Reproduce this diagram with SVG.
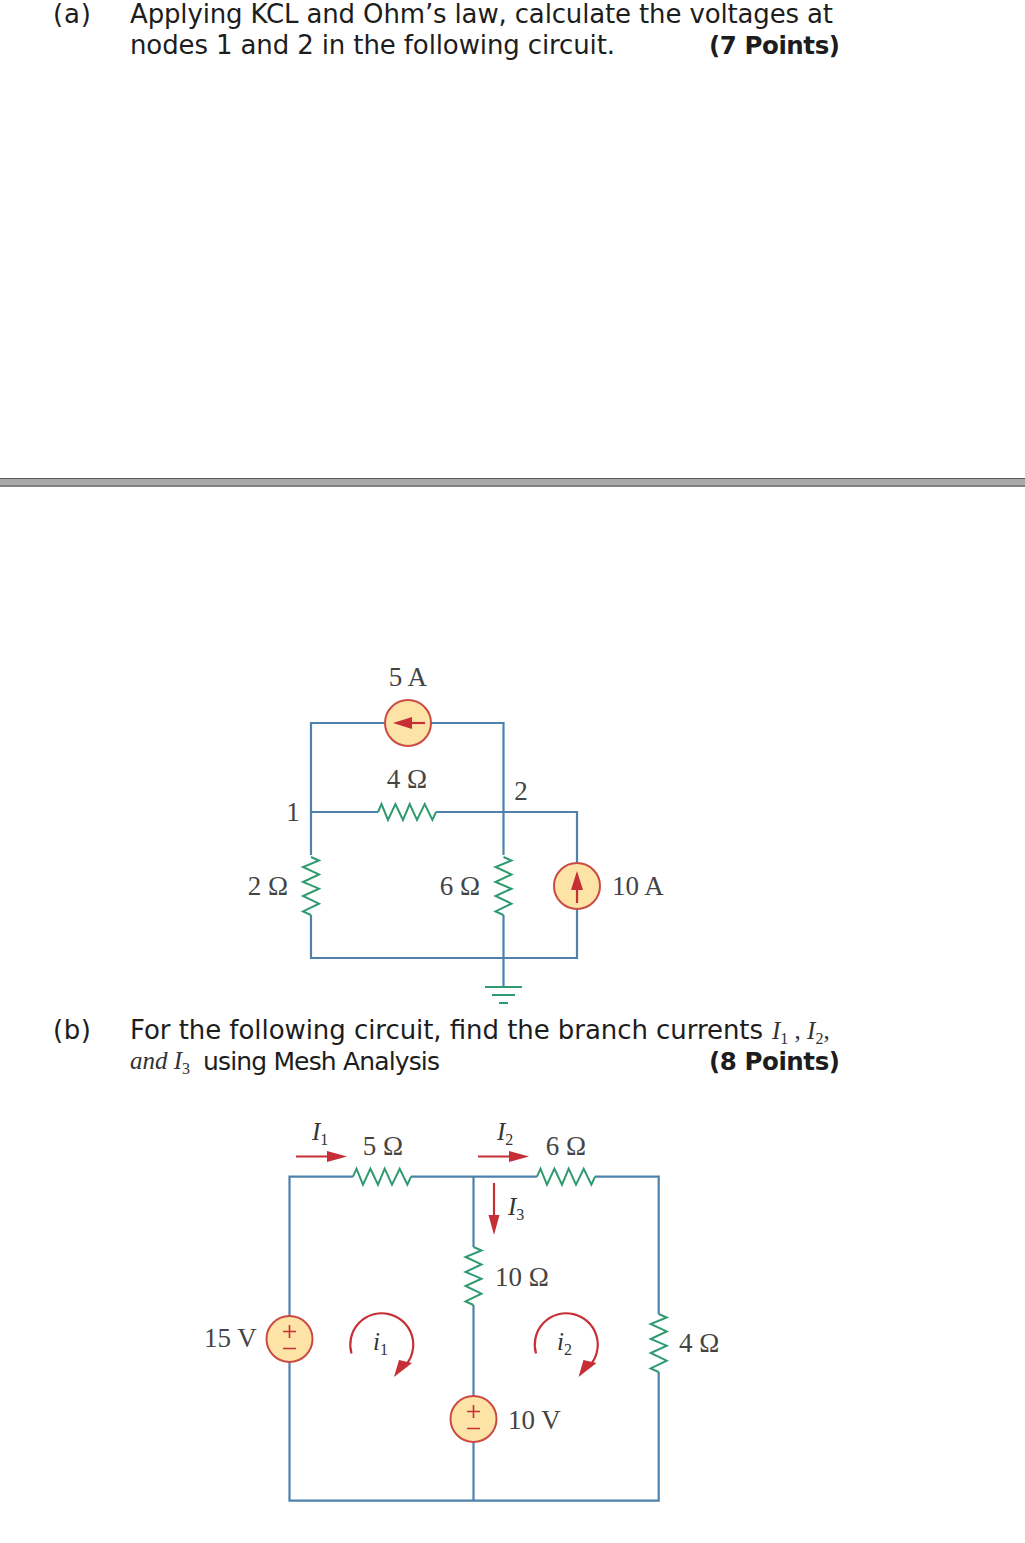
<svg xmlns="http://www.w3.org/2000/svg" width="1025" height="1543" viewBox="0 0 1025 1543">
<style>
.t{font-family:"DejaVu Sans",Verdana,sans-serif;font-size:26px;fill:#1d1d1d}
.b{font-weight:bold;font-size:24.500px}
.n{font-size:25px}
.l{font-family:"Liberation Serif","Times New Roman",serif;font-size:27px;fill:#444}
.m{font-family:"Liberation Serif","Times New Roman",serif;font-style:italic;font-size:25px;fill:#333}
.w{fill:none;stroke:#4f81ad;stroke-width:2.200}
.r{fill:none;stroke:#2f9a70;stroke-width:2}
.s{fill:#fde3a5;stroke:#cb4a43;stroke-width:2}
.a{fill:none;stroke:#c62f35;stroke-width:2.200}
.p{fill:none;stroke:#c62f35;stroke-width:1.600}
.h{fill:#c62f35}
.g{stroke:#2f9a70;stroke-width:2}
</style>
<defs>
<path id="res" class="r" d="M0 0L3.500-8L10 8L17.400-8L25 8L31.700-8L39 8L46.700-8L54.400 8L58 0"/>
<g id="vs"><circle class="s" r="23"/><path class="p" d="M-6.500-7.500H6.500M0-14V-1M-6.500 9.500H6.500"/></g>
<g id="mesh"><path class="a" d="M-30.500 8.500A31.500 31.500 0 1 1 23 21"/><path class="h" d="M12 32L17 15L30 18Z"/></g>
</defs>
<rect width="1025" height="1543" fill="#fff"/>
<g id="header">
<text class="t" x="53" y="23" textLength="38">(a)</text>
<text class="t" x="130" y="23" textLength="703">Applying KCL and Ohm’s law, calculate the voltages at</text>
<text class="t" x="130" y="54" textLength="485">nodes 1 and 2 in the following circuit.</text>
<text class="t b" x="709" y="54" textLength="131">(7 Points)</text>
</g>
<g id="divider">
<rect x="0" y="478" width="1025" height="9" fill="#a9a9a9"/>
<path d="M0 478.500H1025M0 486H1025" stroke="#5a5a5a" stroke-width="1" fill="none"/>
</g>
<g id="question-b">
<text class="t" x="53" y="1039" textLength="38">(b)</text>
<text class="t" x="130" y="1039" textLength="633">For the following circuit, find the branch currents</text>
<text class="m" x="772" y="1039" font-size="24">I<tspan font-size="16" dy="5" font-style="normal">1</tspan><tspan dy="-5" font-style="normal"> , </tspan>I<tspan font-size="16" dy="5" font-style="normal">2</tspan><tspan dy="-5" font-style="normal">,</tspan></text>
<text class="m" x="130" y="1069">and I<tspan font-size="16" dy="5" font-style="normal">3</tspan></text>
<text class="t n" x="203" y="1070" textLength="237">using Mesh Analysis</text>
<text class="t b" x="709" y="1070" textLength="131">(8 Points)</text>
</g>
<g id="connectors">
<path class="w" d="M311 855V723H503.500V855M311 812H378M436 812H577V863M577 909V958H311V915M503.500 915V987"/>
<path class="w" d="M289.500 1316V1176.700H353M411 1176.700H537M595 1176.700H658.700V1314M658.700 1372V1500.700H289.500V1362M473.500 1176.700V1247M473.500 1305V1396M473.500 1442V1500.700"/>
</g>
<g id="source-5a"><circle class="s" cx="408" cy="723" r="23"/><path class="a" d="M425 723H405"/><path class="h" d="M393 723L412 717V729Z"/><text class="l" x="408" y="686" text-anchor="middle">5 A</text></g>
<g id="r-4a"><use href="#res" x="378" y="812"/><text class="l" x="407" y="788" text-anchor="middle">4 Ω</text></g>
<g id="r-2"><use href="#res" transform="translate(311 857) rotate(90)"/><text class="l" x="268" y="895" text-anchor="middle">2 Ω</text></g>
<g id="r-6a"><use href="#res" transform="translate(503.500 857) rotate(90)"/><text class="l" x="460" y="895" text-anchor="middle">6 Ω</text></g>
<g id="source-10a"><circle class="s" cx="577" cy="886" r="23"/><path class="a" d="M577 903V883"/><path class="h" d="M577 871L583 890H571Z"/><text class="l" x="612" y="895">10 A</text></g>
<g id="node-1"><text class="l" x="293" y="821" text-anchor="middle">1</text></g>
<g id="node-2"><text class="l" x="521" y="800" text-anchor="middle">2</text></g>
<g id="ground"><path class="g" d="M485 987H522M492 995H515M499 1003H508"/></g>
<g id="r-5"><use href="#res" x="353" y="1176.700"/><text class="l" x="383" y="1155" text-anchor="middle">5 Ω</text></g>
<g id="r-6b"><use href="#res" x="537" y="1176.700"/><text class="l" x="566" y="1155" text-anchor="middle">6 Ω</text></g>
<g id="r-10"><use href="#res" transform="translate(473.500 1247) rotate(90)"/><text class="l" x="495" y="1286">10 Ω</text></g>
<g id="r-4b"><use href="#res" transform="translate(658.700 1314) rotate(90)"/><text class="l" x="679" y="1352">4 Ω</text></g>
<g id="source-15v"><use href="#vs" x="289.500" y="1339"/><text class="l" x="204" y="1347">15 V</text></g>
<g id="source-10v"><use href="#vs" x="473.500" y="1419"/><text class="l" x="508" y="1429">10 V</text></g>
<g id="current-i1"><path class="a" d="M296 1156.500H335"/><path class="h" d="M347 1156.500L327 1151V1162Z"/><text class="m" x="312" y="1140">I<tspan font-size="16" dy="5" font-style="normal">1</tspan></text></g>
<g id="current-i2"><path class="a" d="M478 1156.500H517"/><path class="h" d="M529 1156.500L509 1151V1162Z"/><text class="m" x="497" y="1140">I<tspan font-size="16" dy="5" font-style="normal">2</tspan></text></g>
<g id="current-i3"><path class="a" d="M494 1183V1222"/><path class="h" d="M494 1235L488.500 1215H499.500Z"/><text class="m" x="508" y="1215">I<tspan font-size="16" dy="5" font-style="normal">3</tspan></text></g>
<g id="mesh-1"><use href="#mesh" x="382" y="1345"/><text class="m" x="373" y="1350">i<tspan font-size="16" dy="5" font-style="normal">1</tspan></text></g>
<g id="mesh-2"><use href="#mesh" x="566.500" y="1345"/><text class="m" x="557" y="1350">i<tspan font-size="16" dy="5" font-style="normal">2</tspan></text></g>
</svg>
